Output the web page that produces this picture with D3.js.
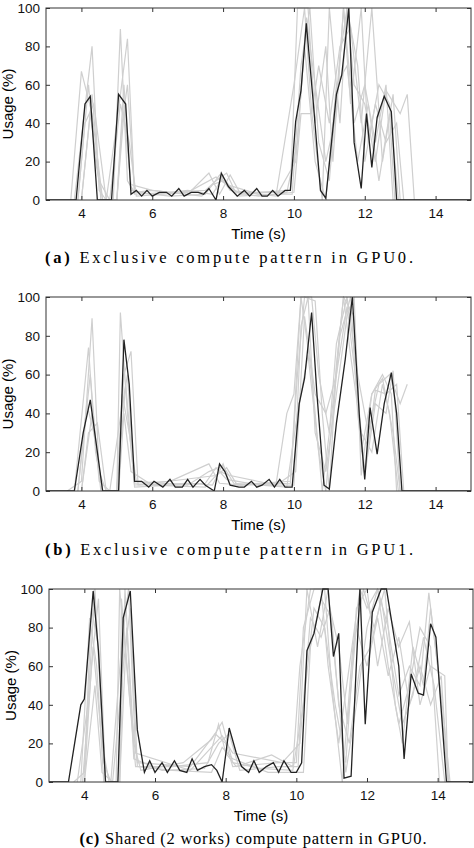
<!DOCTYPE html>
<html><head><meta charset="utf-8">
<script src="https://cdn.jsdelivr.net/npm/d3@7"></script>
<style>body{margin:0;background:#fff}</style></head>
<body><svg id="c" width="474" height="848"></svg>
<script>
const xTicks=[4,6,8,10,12,14];
const yTicks=[0,20,40,60,80,100];
const captionsBold=["(a)","(b)","(c)"];
const captionsText=[" Exclusive compute pattern in GPU0."," Exclusive compute pattern in GPU1."," Shared (2 works) compute pattern in GPU0."];

const blackA=[[3,0],[3.85,0],[4.1,50],[4.25,54],[4.45,0],[4.85,0],[5.05,55],[5.25,50],[5.4,3],[5.55,5],[5.7,2],[5.85,5],[6.0,2],[6.2,4],[6.4,4],[6.55,2],[6.75,6],[6.9,2],[7.1,4],[7.3,4],[7.45,3],[7.6,6],[7.8,0],[7.95,14],[8.15,7],[8.4,2],[8.6,5],[8.75,2],[8.95,6],[9.1,2],[9.25,2],[9.4,5],[9.55,2],[9.75,5],[9.9,5],[10.05,41],[10.2,57],[10.35,92],[10.55,50],[10.75,5],[10.9,1],[11.2,55],[11.35,65],[11.55,100],[11.7,30],[11.9,6],[12.05,45],[12.2,17],[12.35,43],[12.55,54],[12.75,46],[12.9,0],[15,0]];
const blackB=[[3,0],[3.8,0],[4.05,30],[4.25,47],[4.6,0],[5.05,0],[5.2,78],[5.35,55],[5.5,5],[5.7,5],[5.9,2],[6.05,5],[6.3,2],[6.5,6],[6.65,2],[6.85,2],[7.0,6],[7.15,2],[7.35,6],[7.5,3],[7.75,0],[7.9,14],[8.05,10],[8.2,3],[8.45,2],[8.6,2],[8.8,5],[8.95,2],[9.1,3],[9.3,6],[9.45,2],[9.6,6],[9.75,2],[9.95,2],[10.15,45],[10.3,58],[10.5,92],[10.65,50],[10.85,3],[11.0,1],[11.2,35],[11.45,68],[11.65,100],[11.85,38],[12.0,6],[12.15,43],[12.35,19],[12.55,45],[12.75,61],[12.9,40],[13.05,0],[15,0]];
const blackC=[[3,0],[3.55,0],[3.9,40],[4.0,43],[4.25,99],[4.4,68],[4.6,0],[4.95,0],[5.1,85],[5.3,99],[5.5,27],[5.7,5],[5.85,11],[6.0,5],[6.2,10],[6.35,5],[6.55,11],[6.7,6],[6.9,5],[7.05,12],[7.2,6],[7.4,8],[7.6,9],[7.75,6],[7.9,0],[8.1,28],[8.3,15],[8.45,8],[8.65,5],[8.8,11],[8.95,5],[9.15,8],[9.35,10],[9.5,5],[9.65,11],[9.85,5],[10.0,5],[10.15,10],[10.3,68],[10.5,77],[10.75,100],[10.9,100],[11.05,65],[11.2,77],[11.35,2],[11.55,3],[11.8,100],[11.95,30],[12.15,88],[12.4,100],[12.55,100],[12.9,60],[13.05,12],[13.25,56],[13.45,46],[13.6,45],[13.8,82],[13.95,75],[14.25,0],[15,0]];

const greyA=[
[[3.7,0],[4.0,67],[4.3,45],[4.6,0],[4.9,0],[5.1,89],[5.3,10],[5.5,4],[6,5],[7,3],[7.6,14],[7.9,3],[8.2,13],[8.5,3],[9,4],[9.9,5],[10.1,100],[10.4,100],[10.6,40],[10.9,80],[11.1,20],[11.4,100],[11.6,50],[11.9,100],[12.1,30],[12.4,60],[12.7,50],[12.95,0]],
[[3.8,0],[4.3,80],[4.5,5],[4.7,0],[5.0,40],[5.3,84],[5.5,3],[6.5,4],[7.5,5],[7.8,10],[8.1,14],[8.4,2],[9.5,3],[10.0,60],[10.3,100],[10.5,46],[10.8,0],[11.0,100],[11.3,40],[11.5,100],[11.7,60],[12.0,50],[12.3,20],[12.6,57],[13.0,45],[13.2,55],[13.4,0]],
[[3.9,0],[4.2,60],[4.4,20],[4.6,0],[5.0,0],[5.2,60],[5.4,5],[6,3],[7,5],[7.7,3],[8.0,12],[8.3,4],[9,2],[10,4],[10.2,45],[10.5,45],[10.7,70],[11.0,40],[11.3,80],[11.6,90],[11.9,40],[12.2,100],[12.5,20],[12.8,55],[13.0,0]],
[[3.9,0],[4.1,40],[4.35,50],[4.7,0],[5.0,0],[5.15,40],[5.3,60],[5.5,4],[6.5,2],[7.5,3],[7.9,13],[8.2,5],[9.5,2],[10.05,20],[10.3,80],[10.6,20],[10.9,0],[11.2,60],[11.5,70],[11.8,20],[12.1,50],[12.4,10],[12.7,45],[12.85,0]],
[[4.0,0],[4.25,45],[4.5,10],[4.8,0],[5.1,50],[5.35,30],[5.55,2],[7,4],[7.8,12],[8.1,8],[9,3],[9.95,3],[10.2,70],[10.45,100],[10.7,30],[11.0,10],[11.3,75],[11.5,100],[11.8,70],[12.0,20],[12.3,50],[12.6,30],[12.9,40],[13.1,0]],
[[4.0,0],[4.3,55],[4.55,0],[5.0,0],[5.2,45],[5.4,8],[6,5],[7.4,2],[7.7,8],[8.0,10],[8.4,4],[9.8,4],[10.1,30],[10.35,95],[10.6,60],[10.9,20],[11.2,45],[11.4,100],[11.7,40],[12.0,60],[12.3,30],[12.6,60],[12.8,0]]
];
const greyB=[
[[3.6,0],[4.0,5],[4.3,89],[4.5,10],[4.7,0],[5.0,0],[5.1,92],[5.3,40],[5.5,4],[6.5,5],[7.6,14],[7.9,4],[8.5,3],[9.5,4],[9.8,40],[10.0,50],[10.2,100],[10.5,100],[10.7,60],[11.0,30],[11.2,76],[11.5,100],[11.8,60],[12.1,30],[12.4,55],[12.7,60],[13.0,45],[13.2,55]],
[[3.8,0],[4.2,74],[4.4,20],[4.6,0],[5.0,0],[5.2,60],[5.4,72],[5.6,3],[7,4],[7.7,3],[8.0,14],[8.2,3],[9.9,5],[10.1,60],[10.3,100],[10.6,98],[10.8,40],[11.0,0],[11.2,65],[11.4,100],[11.7,90],[11.9,20],[12.2,50],[12.5,58],[12.8,30],[13.0,0]],
[[3.9,0],[4.25,60],[4.5,5],[4.8,0],[5.1,38],[5.3,60],[5.5,2],[6.5,3],[7.5,4],[7.8,12],[8.1,6],[9,3],[10,3],[10.2,85],[10.4,100],[10.6,30],[10.9,10],[11.2,50],[11.5,90],[11.7,100],[11.9,8],[12.2,50],[12.5,60],[12.75,50],[12.9,0]],
[[3.9,0],[4.15,45],[4.35,30],[4.6,0],[5.0,0],[5.15,50],[5.35,30],[5.55,5],[7,3],[7.6,10],[8.0,13],[8.3,4],[9.8,2],[10.1,40],[10.4,70],[10.7,20],[10.9,0],[11.3,80],[11.6,100],[11.8,40],[12.0,8],[12.3,45],[12.6,40],[12.8,62],[13.0,0]],
[[4.0,0],[4.3,40],[4.55,0],[5.0,0],[5.25,55],[5.5,3],[6,4],[7.8,8],[8.1,12],[8.4,3],[9.9,4],[10.2,100],[10.5,60],[10.8,0],[11.1,45],[11.4,100],[11.6,70],[11.9,30],[12.2,20],[12.5,55],[12.7,40],[12.95,0]],
[[4.0,0],[4.2,30],[4.45,35],[4.7,0],[5.05,0],[5.2,40],[5.4,10],[6,3],[7.5,2],[7.9,10],[8.2,8],[9.5,3],[10.05,10],[10.3,90],[10.6,50],[10.9,40],[11.2,60],[11.5,95],[11.8,50],[12.0,10],[12.3,52],[12.6,50],[12.9,55],[13.1,0]]
];
const greyC=[
[[3.7,0],[4.0,5],[4.2,90],[4.4,70],[4.6,0],[4.9,0],[5.0,100],[5.2,60],[5.45,8],[6.5,8],[7.5,10],[7.8,30],[8.0,15],[8.3,8],[9.3,14],[9.9,8],[10.1,60],[10.4,100],[10.7,100],[10.9,60],[11.2,20],[11.5,60],[11.8,100],[12.0,90],[12.3,100],[12.6,80],[12.9,45],[13.2,60],[13.5,50],[13.75,98],[14.0,60],[14.3,0]],
[[3.9,0],[4.15,85],[4.35,60],[4.55,0],[5.0,0],[5.05,95],[5.3,40],[5.5,10],[7,8],[7.7,25],[8.0,20],[8.2,8],[9.5,10],[10.0,10],[10.2,80],[10.5,100],[10.8,100],[11.0,50],[11.3,0],[11.6,70],[11.9,100],[12.2,80],[12.5,100],[12.8,40],[13.0,20],[13.3,70],[13.6,50],[13.8,90],[14.1,45],[14.35,0]],
[[3.95,0],[4.25,70],[4.5,20],[4.7,0],[5.0,0],[5.15,100],[5.4,20],[5.6,6],[6.8,10],[7.6,22],[7.9,31],[8.2,10],[9.0,7],[9.9,6],[10.2,40],[10.5,90],[10.8,80],[11.1,40],[11.4,10],[11.7,90],[12.0,100],[12.3,60],[12.6,90],[12.9,70],[13.2,83],[13.5,40],[13.8,60],[14.2,55],[14.3,0]],
[[4.0,0],[4.2,60],[4.4,95],[4.6,0],[5.0,0],[5.2,80],[5.4,12],[6.2,6],[7.4,7],[7.8,20],[8.1,25],[8.4,6],[9.5,8],[10.05,8],[10.3,100],[10.6,70],[10.9,100],[11.1,60],[11.4,5],[11.7,40],[12.0,80],[12.3,100],[12.6,60],[12.9,30],[13.2,50],[13.5,80],[13.8,70],[14.05,0]],
[[4.0,0],[4.3,50],[4.5,5],[4.8,0],[5.1,60],[5.3,90],[5.5,8],[6.5,6],[7.6,5],[7.9,18],[8.2,12],[9.2,5],[10.2,5],[10.4,70],[10.7,95],[11.0,85],[11.2,40],[11.5,20],[11.8,60],[12.1,70],[12.4,95],[12.7,60],[13.0,30],[13.3,45],[13.6,75],[13.9,50],[14.2,0]],
[[3.8,0],[4.1,40],[4.3,100],[4.55,10],[4.75,0],[5.05,70],[5.25,100],[5.45,15],[7,6],[7.9,24],[8.2,15],[9.6,10],[10.1,20],[10.4,85],[10.7,75],[10.95,90],[11.2,70],[11.45,30],[11.7,80],[12.0,60],[12.3,85],[12.6,55],[12.9,75],[13.2,40],[13.5,60],[13.8,40],[14.1,55],[14.3,0]]
];

const panels=[
 {black:blackA,grey:greyA,x0:46,x1:471,y0:8,y1:200,cap:263,cx:229,cw:368},
 {black:blackB,grey:greyB,x0:46,x1:471,y0:297,y1:491,cap:555,cx:229,cw:368},
 {black:blackC,grey:greyC,x0:49,x1:473,y0:589,y1:782,cap:844,cx:253,cw:347}
];
const svg=d3.select("#c");
panels.forEach((p,i)=>{
 const x=d3.scaleLinear().domain([3,15]).range([p.x0,p.x1]);
 const y=d3.scaleLinear().domain([0,100]).range([p.y1,p.y0]);
 const g=svg.append("g");
 g.append("clipPath").attr("id","cl"+i).append("rect")
  .attr("x",p.x0).attr("y",p.y0-1).attr("width",p.x1-p.x0).attr("height",p.y1-p.y0+1);
 const line=d3.line().x(d=>x(d[0])).y(d=>y(d[1]));
 const lg=g.append("g").attr("clip-path",`url(#cl${i})`);
 p.grey.forEach(s=>lg.append("path").attr("d",line(s)).attr("fill","none").attr("stroke","#cfcfcf").attr("stroke-width",1.2));
 lg.append("path").attr("d",line(p.black)).attr("fill","none").attr("stroke","#222").attr("stroke-width",1.3);
 const fs=13.5, ff="'Liberation Sans',Arial,sans-serif";
 const ax=g.append("g").attr("transform",`translate(0,${p.y1})`).call(d3.axisBottom(x).tickValues(xTicks).tickSizeInner(-4).tickSizeOuter(0).tickPadding(8));
 const axT=g.append("g").attr("transform",`translate(0,${p.y0})`).call(d3.axisTop(x).tickValues(xTicks).tickSizeInner(-4).tickSizeOuter(0).tickFormat(""));
 const ay=g.append("g").attr("transform",`translate(${p.x0},0)`).call(d3.axisLeft(y).tickValues(yTicks).tickSizeInner(-4).tickSizeOuter(0).tickPadding(6));
 const ayR=g.append("g").attr("transform",`translate(${p.x1},0)`).call(d3.axisRight(y).tickValues(yTicks).tickSizeInner(-4).tickSizeOuter(0).tickFormat(""));
 [ax,axT,ay,ayR].forEach(a=>{a.select(".domain").remove();a.selectAll("text").attr("font-size",fs).attr("font-family",ff).attr("fill","#111");a.selectAll("line").attr("stroke","#333");});
 g.append("rect").attr("x",p.x0).attr("y",p.y0).attr("width",p.x1-p.x0).attr("height",p.y1-p.y0).attr("fill","none").attr("stroke","#333").attr("stroke-width",1);
 g.append("text").attr("x",(p.x0+p.x1)/2).attr("y",p.y1+39).attr("text-anchor","middle").attr("font-size",15).attr("font-family",ff).text("Time (s)");
 g.append("text").attr("transform",`translate(${p.x0-33},${(p.y0+p.y1)/2}) rotate(-90)`).attr("text-anchor","middle").attr("font-size",15).attr("font-family",ff).text("Usage (%)");
 const t=g.append("text").attr("x",p.cx).attr("y",p.cap).attr("text-anchor","middle").attr("font-size",16.5)
  .attr("font-family","'Liberation Serif','DejaVu Serif',serif").attr("textLength",p.cw).attr("lengthAdjust","spacing");
 t.append("tspan").attr("font-weight","bold").text(captionsBold[i]);
 t.append("tspan").text(captionsText[i]);
});
</script></body></html>
